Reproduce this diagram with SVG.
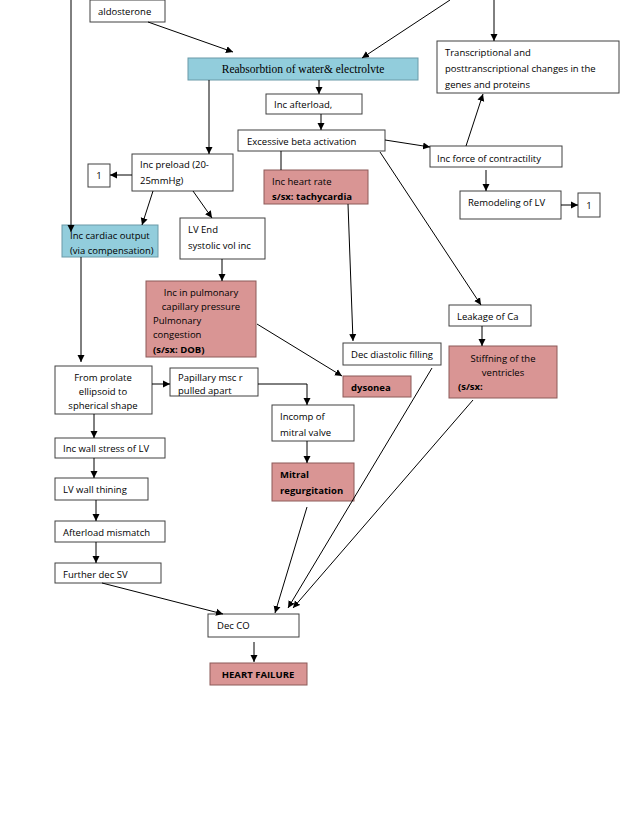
<svg xmlns="http://www.w3.org/2000/svg" width="638" height="826" viewBox="0 0 638 826">
<style>
.b{fill:#fff;stroke:#404040;stroke-width:1}
.p{fill:#d99594;stroke:#8c5a59;stroke-width:1}
.c{fill:#92cddc;stroke:#6a9aa8;stroke-width:1}
text{font-family:"Open Sans","Liberation Sans",sans-serif;font-size:9.5px;fill:#000}
.bd{font-weight:bold}
.l{stroke:#000;stroke-width:1;fill:none}
.a{marker-end:url(#ah)}
</style>
<defs>
<marker id="ah" markerWidth="8" markerHeight="8" refX="7" refY="4" orient="auto" markerUnits="userSpaceOnUse"><path d="M0,0.5 L7,4 L0,7.5z" fill="#000"/></marker>
<clipPath id="c1"><rect x="264" y="170" width="104" height="34"/></clipPath>
<clipPath id="c2"><rect x="62" y="225" width="96" height="32"/></clipPath>
<clipPath id="c3"><rect x="146" y="281" width="110" height="76"/></clipPath>
<clipPath id="c4"><rect x="272" y="463" width="82" height="38"/></clipPath>
</defs>
<rect width="638" height="826" fill="#fff"/>
<g id="n-aldo"><rect class="b" x="90" y="0" width="75" height="22"/><text x="98" y="15">aldosterone</text></g>
<g id="n-reab"><rect class="c" x="188" y="58" width="230" height="22"/><text x="303" y="73" text-anchor="middle" style="font-family:'Liberation Serif',serif;font-size:11.5px">Reabsorbtion of water&amp; electrolvte</text></g>
<g id="n-trans"><rect class="b" x="437" y="41" width="182" height="52"/><text x="445" y="56">Transcriptional and</text><text x="445" y="72">posttranscriptional changes in the</text><text x="445" y="88">genes and proteins</text></g>
<g id="n-after"><rect class="b" x="266" y="94" width="96" height="20"/><text x="274" y="108">Inc afterload,</text></g>
<g id="n-beta"><rect class="b" x="238" y="130" width="147" height="21"/><text x="247" y="145">Excessive beta activation</text></g>
<g id="n-force"><rect class="b" x="430" y="146" width="132" height="21"/><text x="437" y="162">Inc force of contractility</text></g>
<g id="n-pre"><rect class="b" x="132" y="154" width="101" height="37"/><text x="140" y="168">Inc preload (20-</text><text x="140" y="184">25mmHg)</text></g>
<g id="n-one1"><rect class="b" x="88" y="164" width="22" height="23"/><text x="99" y="179" text-anchor="middle">1</text></g>
<g id="n-hr"><rect class="p" x="264" y="170" width="104" height="34"/><g clip-path="url(#c1)"><text x="272" y="185">Inc heart rate</text><text class="bd" x="272" y="200">s/sx: tachycardia</text></g></g>
<g id="n-remod"><rect class="b" x="460" y="191" width="101" height="28"/><text x="468" y="206">Remodeling of LV</text></g>
<g id="n-one2"><rect class="b" x="578" y="193" width="22" height="24"/><text x="589" y="209" text-anchor="middle">1</text></g>
<g id="n-co"><rect class="c" x="62" y="225" width="96" height="32"/><g clip-path="url(#c2)"><text x="70" y="239">Inc cardiac output</text><text x="70" y="254">(via compensation)</text></g></g>
<g id="n-lvend"><rect class="b" x="180" y="218" width="85" height="41"/><text x="188" y="233">LV End</text><text x="188" y="249">systolic vol inc</text></g>
<g id="n-pulm"><rect class="p" x="146" y="281" width="110" height="76"/><g clip-path="url(#c3)"><text x="201" y="296" text-anchor="middle">Inc in pulmonary</text><text x="201" y="310" text-anchor="middle">capillary pressure</text><text x="153" y="324">Pulmonary</text><text x="153" y="338">congestion</text><text class="bd" x="153" y="353">(s/sx: DOB)</text></g></g>
<g id="n-leak"><rect class="b" x="449" y="305" width="82" height="21"/><text x="457" y="320">Leakage of Ca</text></g>
<g id="n-dec"><rect class="b" x="343" y="343" width="98" height="22"/><text x="351" y="358">Dec diastolic filling</text></g>
<g id="n-stiff"><rect class="p" x="449" y="346" width="108" height="52"/><text x="503" y="362" text-anchor="middle">Stiffning of the</text><text x="503" y="376" text-anchor="middle">ventricles</text><text class="bd" x="458" y="390">(s/sx:</text></g>
<g id="n-dys"><rect class="p" x="343" y="376" width="68" height="21"/><text class="bd" x="351" y="391">dysonea</text></g>
<g id="n-prol"><rect class="b" x="55" y="366" width="97" height="48"/><text x="103" y="381" text-anchor="middle">From prolate</text><text x="103" y="395" text-anchor="middle">ellipsoid to</text><text x="103" y="409" text-anchor="middle">spherical shape</text></g>
<g id="n-pap"><rect class="b" x="170" y="368" width="88" height="28"/><text x="178" y="381">Papillary msc r</text><text x="178" y="394">pulled apart</text></g>
<g id="n-incomp"><rect class="b" x="272" y="405" width="82" height="36"/><text x="280" y="420">Incomp of</text><text x="280" y="436">mitral valve</text></g>
<g id="n-wall"><rect class="b" x="55" y="438" width="110" height="20"/><text x="63" y="452">Inc wall stress of LV</text></g>
<g id="n-mitral"><rect class="p" x="272" y="463" width="82" height="38"/><g clip-path="url(#c4)"><text class="bd" x="280" y="478">Mitral</text><text class="bd" x="280" y="494">regurgitation</text></g></g>
<g id="n-thin"><rect class="b" x="55" y="478" width="93" height="22"/><text x="63" y="493">LV wall thining</text></g>
<g id="n-mis"><rect class="b" x="55" y="521" width="110" height="21"/><text x="63" y="536">Afterload mismatch</text></g>
<g id="n-sv"><rect class="b" x="55" y="563" width="106" height="20"/><text x="63" y="578">Further dec SV</text></g>
<g id="n-decco"><rect class="b" x="208" y="614" width="91" height="23"/><text x="217" y="629">Dec  CO</text></g>
<g id="n-hf"><rect class="p" x="210" y="663" width="97" height="22"/><text class="bd" x="258" y="678" text-anchor="middle">HEART FAILURE</text></g>
<g id="connectors">
<path class="l a" d="M71,0 V232"/>
<path class="l a" d="M148,22 L233,52"/>
<path class="l a" d="M450,0 L362,58"/>
<path class="l a" d="M494,0 V41"/>
<path class="l a" d="M209,80 V154"/>
<path class="l a" d="M319,80 V94"/>
<path class="l a" d="M321,114 V130"/>
<path class="l a" d="M385,140 L430,147"/>
<path class="l a" d="M380,152 L481,305"/>
<path class="l" d="M281,151 V170"/>
<path class="l a" d="M466,146 L483,94"/>
<path class="l a" d="M486,170 V191"/>
<path class="l a" d="M561,205 H578"/>
<path class="l a" d="M132,175 H110"/>
<path class="l a" d="M153,191 L142,225"/>
<path class="l a" d="M193,191 L212,218"/>
<path class="l a" d="M348,204 L353,341"/>
<path class="l a" d="M222,259 V281"/>
<path class="l a" d="M81,257 V362"/>
<path class="l a" d="M257,324 L342,376"/>
<path class="l a" d="M482,326 V346"/>
<path class="l a" d="M152,384 H170"/>
<path class="l a" d="M258,384 H307 V405"/>
<path class="l a" d="M307,441 V463"/>
<path class="l a" d="M94,414 V438"/>
<path class="l a" d="M94,458 V478"/>
<path class="l a" d="M96,500 V521"/>
<path class="l a" d="M96,542 V563"/>
<path class="l a" d="M102,583 L223,614"/>
<path class="l a" d="M307,507 L275,613"/>
<path class="l a" d="M432,368 L288,608"/>
<path class="l a" d="M473,400 L293,608"/>
<path class="l a" d="M254,642 V662"/>
</g>
</svg>
